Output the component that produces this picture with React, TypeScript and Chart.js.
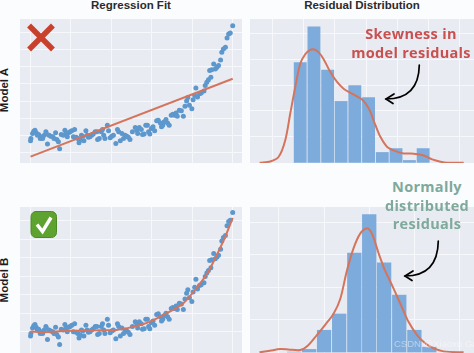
import React, { useEffect, useRef } from "react";
import { Chart, registerables } from "chart.js";

Chart.register(...registerables);

const scatterX = [0,0.01,0.05,0.08,0.11,0.14,0.17,0.2,0.24,0.27,0.3,0.34,0.38,0.39,0.42,0.46,0.5,0.55,0.58,0.62,0.65,0.69,0.72,0.76,0.81,0.85,0.88,0.91,0.94,0.98,1.02,1.06,1.09,1.13,1.17,1.2,1.23,1.26,1.29,1.32,1.37,1.4,1.43,1.47,1.51,1.55,1.6,1.64,1.66,1.7,1.75,1.78,1.81,1.84,1.9,1.93,1.97,2.01,2.05,2.11,2.15,2.18,2.22,2.26,2.3,2.34,2.38,2.42,2.46,2.52,2.59,2.63,2.65,2.69,2.74,2.77,2.81,2.85,2.89,2.92,2.95,2.99,3.03,3.07,3.12,3.16,3.21,3.24,3.27,3.3,3.35,3.39,3.43,3.48,3.52,3.56,3.6,3.63,3.68,3.73,3.78,3.82,3.86,3.89,3.93,3.99,4.02,4.06,4.09,4.13,4.18,4.22,4.29,4.32,4.36,4.4,4.46,4.43,4.48,4.53,4.57,4.61,4.65,4.7,4.73,4.77,4.82,4.86,4.9,4.94,5];
const scatterY = [0.69,0.83,1.12,1.25,1.31,1.16,1.02,1.06,0.83,0.92,0.83,1.02,1.21,1.12,0.5,1.02,0.96,0.92,0.83,1.16,0.77,0.64,0.23,1.06,1.02,1.31,1.12,0.92,1.16,1.21,1.27,0.92,1.35,0.89,0.83,0.58,0.73,1.02,0.96,0.69,1.27,1.02,0.89,0.92,1.02,1.08,1.21,1.21,0.77,0.83,1.21,1.35,1.02,0.83,1.6,1.27,0.87,0.96,1.02,0.54,1.35,1.21,0.69,1.12,0.83,1.02,0.96,0.89,0.77,1.21,1.46,1.31,1.12,1.46,1.35,1.06,1.08,1.6,1.6,1.21,1.08,1.41,1.5,1.27,1.85,1.89,1.73,1.5,1.6,1.79,1.93,1.73,1.6,2.18,2.24,2.18,2.31,2.12,2.47,2.43,2.12,2.7,3.01,3.2,2.76,2.56,3.08,3.33,3.76,3.24,3.43,3.47,3.58,3.91,4.1,4.24,4.39,4.78,4.82,5.16,4.87,4.97,5.07,5.39,5.84,6.03,6.13,6.67,6.9,6.96,7.38];

const fitAX = [0, 5];
const fitAY = [-0.23, 4.3];
const fitBX = [0,0.32,0.9,1.72,2.13,2.55,2.96,3.37,3.78,4.2,4.4,4.61,4.82,5];
const fitBY = [0.93,0.9,0.97,1,1.02,1.2,1.47,1.93,2.47,3.56,4.19,5.1,6.09,7.09];

const histAX = [-0.11,0.33,0.77,1.2,1.64,2.08,2.52,2.96,3.39,3.83];
const histAY = [3.88,5.26,3.59,2.38,2.99,2.53,0.41,0.56,0.1,0.56];
const kdeAX = [-1.41,-1.07,-0.8,-0.59,-0.43,-0.27,-0.11,0.05,0.21,0.34,0.48,0.64,0.86,1.07,1.28,1.55,1.87,2.09,2.3,2.46,2.67,2.94,3.21,3.53,3.85,4.12,4.39,4.6,5.13];
const kdeAY = [0,0.05,0.23,0.87,1.9,2.92,3.82,4.19,4.36,4.37,4.26,4,3.49,3.12,2.86,2.67,2.44,2.09,1.45,1,0.62,0.45,0.36,0.35,0.28,0.13,0.04,0,0];

const histBX = [-1.66,-1.33,-1,-0.665,-0.33,0,0.33,0.665,1,1.33];
const histBY = [0.02,0.1,0.69,1.19,3.06,4.25,2.76,1.77,0.69,0.17];
const kdeBX = [-2.43,-2.2,-1.97,-1.79,-1.53,-1.35,-1.16,-0.98,-0.79,-0.64,-0.5,-0.35,-0.2,-0.05,0.06,0.21,0.35,0.54,0.72,0.87,1.06,1.24,1.43,1.65,2.09];
const kdeBY = [0,0.05,0.1,0.09,0.07,0.22,0.53,0.84,1.19,1.65,2.48,3.19,3.65,3.82,3.65,3.04,2.52,1.96,1.4,0.94,0.53,0.28,0.12,0.03,0];

const fitTicksX = [0,1,2,3,4,5];
const fitATicksY = [0,1,2,3,4,5,6,7];
const fitBTicksY = [0.93,1.93,2.93,3.93,4.93,5.93,6.93];
const histATicksX = [-1,0,1,2,3,4,5];
const histATicksY = [1,2,3,4,5];
const histBTicksX = [-2,-1,0,1,2];
const histBTicksY = [1,2,3,4];

const PLOT_BG = "#e9ebf2";
const POINT = "#5c97cd";
const LINE = "#d5745c";
const BAR = "#7dabdb";

const zip = (xs: number[], ys: number[]) => xs.map((x, i) => ({ x, y: ys[i] }));

type PanelSpec = {
  left: number; top: number; width: number; height: number;
  datasets: any[]; xr: number[]; yr: number[]; xt: number[]; yt: number[];
};

function scale(range: number[], ticks: number[]) {
  return {
    type: "linear" as const,
    min: range[0],
    max: range[1],
    offset: false,
    afterBuildTicks: (s: any) => { s.ticks = ticks.map((value) => ({ value })); },
    grid: { color: "#f7f8fb", lineWidth: 1, drawTicks: false, offset: false },
    border: { display: false },
    ticks: { display: false },
  };
}

const fitPoints = {
  type: "scatter", data: zip(scatterX, scatterY), backgroundColor: POINT, borderWidth: 0, pointRadius: 2.5, order: 2,
};

const panels: PanelSpec[] = [
  {
    left: 20, top: 19, width: 222, height: 144,
    xr: [-0.26, 5.23], yr: [-0.6, 7.77], xt: fitTicksX, yt: fitATicksY,
    datasets: [
      fitPoints,
      { type: "line", data: zip(fitAX, fitAY), borderColor: LINE, borderWidth: 2, pointRadius: 0, order: 1 },
    ],
  },
  {
    left: 250, top: 19, width: 224, height: 144,
    xr: [-1.72, 5.46], yr: [-0.01, 5.55], xt: histATicksX, yt: histATicksY,
    datasets: [
      { type: "bar", data: zip(histAX, histAY), backgroundColor: BAR, categoryPercentage: 1, barPercentage: 0.96, order: 2 },
      { type: "line", data: zip(kdeAX, kdeAY), borderColor: LINE, borderWidth: 2, pointRadius: 0, tension: 0.3, order: 1 },
    ],
  },
  {
    left: 20, top: 207, width: 222, height: 146,
    xr: [-0.26, 5.23], yr: [-0.23, 7.68], xt: fitTicksX, yt: fitBTicksY,
    datasets: [
      fitPoints,
      { type: "line", data: zip(fitBX, fitBY), borderColor: LINE, borderWidth: 2, pointRadius: 0, tension: 0.3, order: 1 },
    ],
  },
  {
    left: 250, top: 207, width: 224, height: 146,
    xr: [-2.64, 2.32], yr: [-0.02, 4.47], xt: histBTicksX, yt: histBTicksY,
    datasets: [
      { type: "bar", data: zip(histBX, histBY), backgroundColor: BAR, categoryPercentage: 1, barPercentage: 0.96, order: 2 },
      { type: "line", data: zip(kdeBX, kdeBY), borderColor: LINE, borderWidth: 2, pointRadius: 0, tension: 0.3, order: 1 },
    ],
  },
];

function Panel({ spec }: { spec: PanelSpec }) {
  const ref = useRef<HTMLCanvasElement>(null);
  useEffect(() => {
    const chart = new Chart(ref.current!, {
      type: "scatter",
      data: { datasets: spec.datasets },
      options: {
        animation: false,
        responsive: false,
        devicePixelRatio: 1,
        layout: { padding: 0, autoPadding: false },
        plugins: { legend: { display: false }, tooltip: { enabled: false } },
        scales: { x: scale(spec.xr, spec.xt), y: scale(spec.yr, spec.yt) },
      } as any,
    } as any);
    return () => chart.destroy();
  }, [spec]);
  return (
    <canvas
      ref={ref}
      width={spec.width}
      height={spec.height}
      style={{ position: "absolute", left: spec.left, top: spec.top, width: spec.width, height: spec.height, background: PLOT_BG }}
    />
  );
}

const headStyle = (cx: number, cy: number): React.CSSProperties => ({
  position: "absolute", left: cx - 100, top: cy - 8, width: 200, height: 16, lineHeight: "16px", textAlign: "center",
  font: 'bold 11.5px "Liberation Sans"', color: "#2b2b2e", whiteSpace: "nowrap",
});

const noteStyle = (cx: number, cy: number, color: string): React.CSSProperties => ({
  position: "absolute", left: cx - 80, top: cy - 10, width: 160, height: 20, lineHeight: "20px", textAlign: "center",
  font: 'bold 14.5px "Open Sans"', letterSpacing: 0.3, color, whiteSpace: "nowrap",
});

const sideStyle = (cy: number): React.CSSProperties => ({
  position: "absolute", left: 6 - 40, top: cy - 8, width: 80, height: 16, lineHeight: "16px", textAlign: "center",
  font: 'bold 11.5px "Liberation Sans"', color: "#1c1c1e", transform: "rotate(-90deg)", whiteSpace: "nowrap",
});

export default function App() {
  return (
    <div style={{ position: "fixed", left: 0, top: 0, width: 474, height: 353, overflow: "hidden", background: "#fbfcfe" }}>
      {panels.map((p, i) => <Panel key={i} spec={p} />)}
      <div style={headStyle(131, 6.5)}>Regression Fit</div>
      <div style={headStyle(362, 6.5)}>Residual Distribution</div>
      <div style={sideStyle(90)}>Model A</div>
      <div style={sideStyle(280)}>Model B</div>
      <div style={noteStyle(411, 34, "#c9504f")}>Skewness in</div>
      <div style={noteStyle(411, 52.5, "#c9504f")}>model residuals</div>
      <div style={noteStyle(427, 187, "#7ea99b")}>Normally</div>
      <div style={noteStyle(427, 205.5, "#7ea99b")}>distributed</div>
      <div style={noteStyle(427, 224, "#7ea99b")}>residuals</div>
      <svg width={474} height={353} style={{ position: "absolute", left: 0, top: 0 }}>
        <g stroke="#c8412c" strokeWidth={5.5} strokeLinecap="square">
          <line x1={31} y1={27.5} x2={51} y2={47.5} />
          <line x1={51} y1={27.5} x2={31} y2={47.5} />
        </g>
        <rect x={31} y={211.5} width={25.5} height={26} rx={5} fill="#5ea32f" stroke="#4c8a26" strokeWidth={1} />
        <path d="M37 224.5 L42.5 231.5 L51 217.5" fill="none" stroke="#ffffff" strokeWidth={3.4} />
        <g fill="none" stroke="#000000" strokeWidth={1.7} strokeLinecap="round">
          <path d="M419.3 65 C419 85 410 99 386 99" />
          <path d="M394 94 L386 99 L393 103.5" />
          <path d="M438.3 241 C438 260 430 276 405 276" />
          <path d="M413 271 L405 276 L412 280.5" />
        </g>
      </svg>
      <div style={{ position: "absolute", left: 394, top: 338, font: '9.5px "Liberation Sans"', color: "rgba(255,255,255,0.45)", whiteSpace: "nowrap" }}>CSDN @Xiaoxu Gao</div>
    </div>
  );
}
